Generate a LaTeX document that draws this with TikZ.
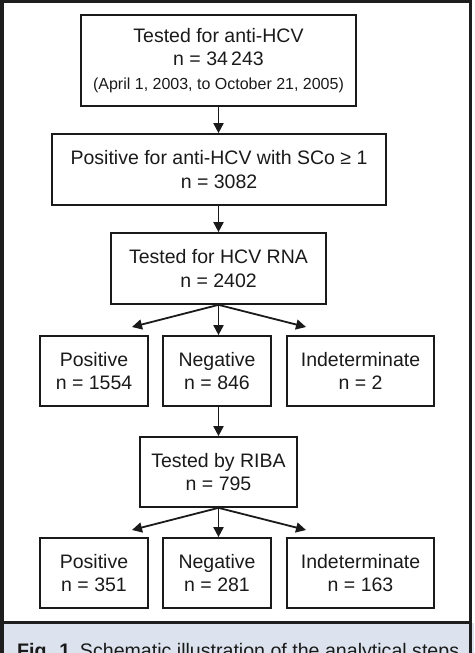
\documentclass[tikz,border=0pt]{standalone}
\usepackage{fontspec}
\setmainfont{Liberation Sans}
\usetikzlibrary{arrows.meta}
\definecolor{capblue}{HTML}{DCE3EE}
\definecolor{framegray}{HTML}{1E1E1E}
\definecolor{inkgray}{HTML}{1A1A1A}
\tikzset{
  stage/.style={draw=inkgray, text=inkgray, line width=1.7pt, align=center, inner sep=0pt,
    font=\fontsize{19.5}{23.5}\selectfont},
  flow/.style={draw=inkgray, line width=1.8pt, -{Triangle[length=10pt,width=10pt]}},
}
\begin{document}
\begin{tikzpicture}[x=1pt,y=-1pt]
  \useasboundingbox (0,0) rectangle (474,653);
  % caption band
  \begin{scope}
    \clip (0,0) rectangle (474,653);
    \fill[capblue] (0,623) rectangle (474,653);
    \node[anchor=base west, text=inkgray, inner sep=0pt, font=\fontsize{19.6}{23}\selectfont] (caption) at (17,657.5)
      {\textbf{Fig. 1}\enspace Schematic illustration of the analytical steps};
  \end{scope}
  \draw[framegray, line width=3.5pt] (1.75,660) -- (1.75,1) -- (470.5,1) -- (470.5,660);
  \draw[framegray, line width=3pt] (1.75,622.5) -- (470.5,622.5);
  % boxes
  \node[stage, minimum width=275pt, minimum height=91pt] (tested) at (218.5,60.5)
    {Tested for anti-HCV\\ n = 34\,243\\ {\fontsize{16}{18}\selectfont (April 1, 2003, to October 21, 2005)}};
  \node[stage, minimum width=334pt, minimum height=71pt] (positive) at (219,169.5)
    {Positive for anti-HCV with SCo ≥ 1\\ n = 3082};
  \node[stage, minimum width=215pt, minimum height=71pt] (rna) at (218.5,268.5)
    {Tested for HCV RNA\\ n = 2402};
  \node[stage, minimum width=108pt, minimum height=70pt] (rnapos) at (94,371) {Positive\\ n = 1554};
  \node[stage, minimum width=108pt, minimum height=70pt] (rnaneg) at (217,371) {Negative\\ n = 846};
  \node[stage, minimum width=147pt, minimum height=70pt] (rnaind) at (360.5,371) {Indeterminate\\ n = 2};
  \node[stage, minimum width=157pt, minimum height=70pt] (riba) at (218.5,472) {Tested by RIBA\\ n = 795};
  \node[stage, minimum width=108pt, minimum height=70pt] (ribapos) at (94,573) {Positive\\ n = 351};
  \node[stage, minimum width=108pt, minimum height=70pt] (ribaneg) at (217,573) {Negative\\ n = 281};
  \node[stage, minimum width=147pt, minimum height=70pt] (ribaind) at (360.5,573) {Indeterminate\\ n = 163};
  % free ends of the side arrows
  \coordinate (rnaleft) at (132,327);
  \coordinate (rnaright) at (306,327);
  \coordinate (ribaleft) at (132,530);
  \coordinate (ribaright) at (306,530);
  % arrows
  \draw[flow] (tested.south) -- (tested.south |- positive.north);
  \draw[flow] (positive.south -| rna.north) -- (rna.north);
  \draw[flow] (rna.south) -- (rnaleft);
  \draw[flow] (rna.south) -- (rna.south |- rnaneg.north);
  \draw[flow] (rna.south) -- (rnaright);
  \draw[flow] (rna.south |- rnaneg.south) -- (riba.north);
  \draw[flow] (riba.south) -- (ribaleft);
  \draw[flow] (riba.south) -- (riba.south |- ribaneg.north);
  \draw[flow] (riba.south) -- (ribaright);
\end{tikzpicture}
\end{document}
